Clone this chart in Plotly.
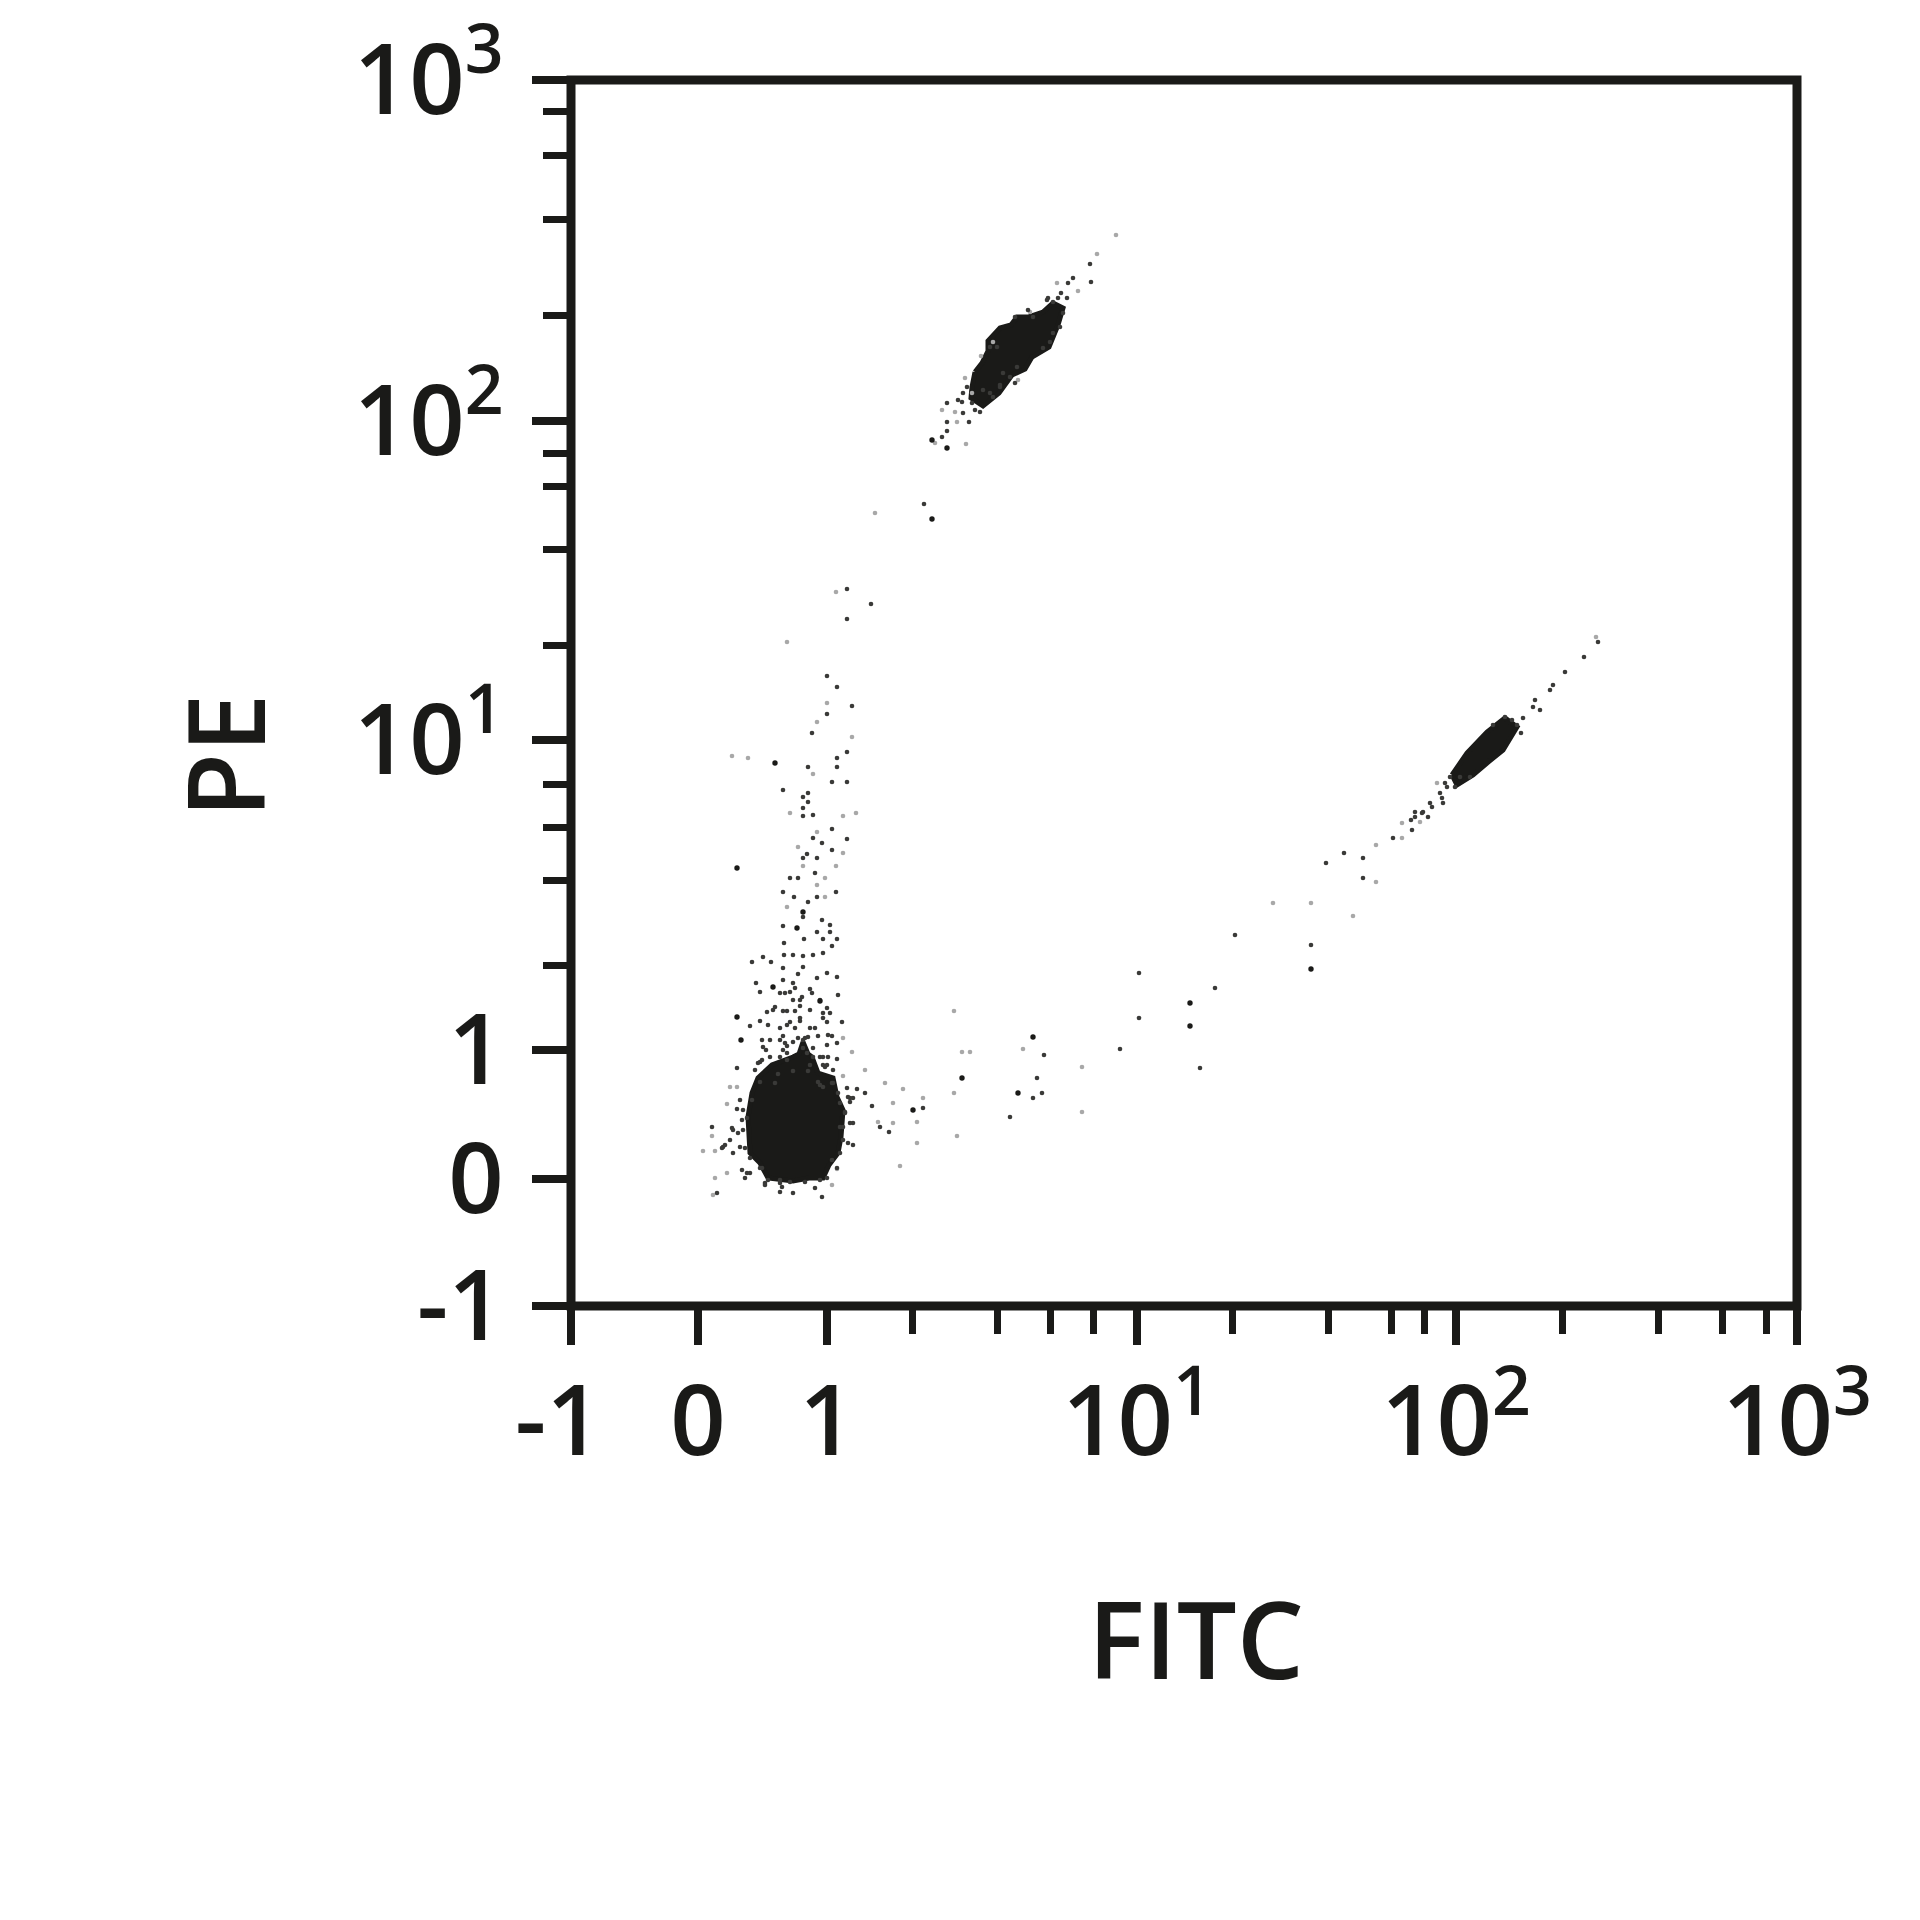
import plotly.graph_objects as go

# Axis positions are instrument channels (0-1226 on both axes, biexponential display)
major_ticks = [0, 127, 256, 566, 885, 1226]
minor_ticks = [341, 426, 479, 522, 661, 757, 820, 853, 991, 1087, 1151, 1195]
x_tick_labels = ["-1\u00a0", "0", "1", "10<sup>1</sup>", "10<sup>2</sup>", "10<sup>3</sup>"]
y_tick_labels = ["-1", "0", "1", "10<sup>1</sup>", "10<sup>2</sup>", "10<sup>3</sup>"]
x_name = "FITC"
y_name = "PE"

# Saturated population areas: outline of each solid region (FITC channel, PE channel)
neg_blob = [(222,249),(228,252),(232,264),(237,252),(241,249),(247,233),(262,228),(266,209),(272,196),(270,169),(267,153),(258,141),
            (252,128),(238,128),(222,125),(208,127),(197,128),(189,143),(179,153),(177,189),(181,213),(187,228),(201,241),(222,249)]
pe_blob = [(404,934),(411,943),(417,955),(417,965),(429,978),(440,981),(446,989),(457,989),(472,994),(482,1003),
           (492,998),(487,981),(478,959),(461,949),(454,937),(441,931),(428,913),(412,900),(400,908),(401,919),(404,934)]
fitc_blob = [(881,531),(896,553),(916,574),(934,588),(946,579),(932,556),(916,543),(902,531),(886,521),(881,531)]

# Individual events
dark_events = [(166,289),(170,266),(342,196),(391,228),(462,269),(447,213),(166,438),(204,543),(361,787),
               (619,303),(619,280),(740,337),(361,866),(376,858),(202,319),(249,305),(226,378),(232,394)]
mid_events = [(179,280),(185,323),(189,314),(181,344),(192,349),(200,344),(213,351),(222,351),(232,350),(242,351),(252,353),
              (232,339),(212,338),(227,332),(246,328),(256,333),(266,329),(212,326),(222,323),(239,317),(231,309),(267,311),
              (229,300),(214,313),(256,298),(239,296),(216,295),(196,294),(204,299),(189,285),(229,285),(252,288),(271,284),
              (216,281),(239,278),(247,270),(261,270),(212,270),(232,266),(216,260),(232,258),(191,266),(195,256),(256,261),
              (266,247),(249,249),(216,246),(189,244),(254,239),(166,238),(207,232),(222,235),(237,235),(204,223),(249,221),
              (262,223),(286,217),(294,213),(279,208),(276,218),(301,200),(309,179),(318,174),(352,198),(274,194),(282,183),
              (272,179),(282,161),(251,109),(244,118),(222,113),(209,114),(209,123),(194,123),(176,133),(174,128),(146,113),
              (152,159),(162,176),(141,179),(169,159),(171,186),(166,197),(169,206),(162,153),(179,148),(189,138),(171,136),
              (179,133),(473,251),(466,228),(462,208),(471,213),(439,189),
              (181,206),(172,196),(176,188),(172,176),(167,173),(161,178),(174,158),(159,166),(154,161),(151,158),(191,138),
              (197,126),(194,121),(209,126),(211,119),(219,124),(234,124),(249,126),(256,128),(266,138),(261,146),(269,153),
              (272,166),(277,163),(269,179),(279,183),(274,193),(269,203),(277,209),(282,208),(279,204),(267,213),(261,223),
              (247,224),(252,219),(189,224),(184,236),(191,246),(199,249),(209,249),(216,253),(242,258),(252,249),(256,241),
              (262,236),
              (222,306),(229,306),(241,313),(249,306),(209,313),(219,314),(224,318),(229,288),(219,284),(256,284),(259,293),
              (252,293),(244,278),(224,278),(227,268),(234,268),(237,269),(212,256),(214,263),(197,281),(199,266),(209,266),
              (222,264),(192,259),(187,243),(202,296),(212,295),(224,295),(209,278),(257,271),(266,263),(252,241),(257,249),
              (242,249),(236,253),(239,241),
              (237,539),(266,548),(276,554),(266,539),(261,524),(276,524),(212,516),(232,509),(237,513),(237,504),(232,498),
              (232,490),(242,491),(261,477),(242,468),(276,467),(251,463),(261,456),(236,452),(232,448),(246,448),(244,433),
              (219,428),(227,428),(212,414),(223,409),(246,409),(265,414),(237,404),(232,389),(251,386),(212,380),(259,381),
              (246,374),(259,374),(233,367),(252,367),(266,367),(261,360),(213,363),
              (353,802),(276,717),(300,702),(276,687),(256,630),(266,619),(281,600),(256,592),(241,573),
              (519,1042),(502,1028),(520,1024),(497,1023),(477,1008),(496,1008),(490,1013),(444,923),(429,921),(376,903),
              (391,904),(392,893),(376,884),(398,884),(376,875),(371,869),(419,913),
              (396,919),(392,913),(387,906),(401,903),(409,894),(404,896),(422,909),(429,919),(412,916),(426,959),(419,959),
              (476,1006),(482,1004),(487,1008),(492,993),(489,979),(482,973),(479,964),(472,958),(444,989),(457,996),(462,989),
              (432,933),(446,939),(439,929),
              (1027,664),(1013,649),(994,634),(982,621),(979,616),(964,606),(962,599),(969,596),(952,588),(950,573),(874,523),
              (869,513),(872,503),(859,503),(852,494),(844,494),(841,476),(822,468),(857,489),
              (884,519),(876,519),(889,529),(934,589),(941,586),(946,581),(922,581),(899,529),(879,529),(871,508),(844,489),
              (840,486),(861,499),(851,493),
              (549,257),(568,288),(568,333),(629,238),(644,318),(664,371),(740,361),(755,443),(773,453),(792,448),(792,428)]
pale_events = [(272,230),(272,268),(281,254),(294,236),(314,223),(332,217),(322,203),(307,184),(322,183),(352,208),
               (346,184),(346,163),(329,140),(383,295),(391,254),(399,254),(383,213),(386,170),(452,257),(266,137),(261,121),
               (156,133),(144,128),(142,111),(132,155),(144,155),(141,170),(156,202),(159,219),(166,219),
               (161,550),(177,548),(242,532),(219,493),(272,490),(285,493),(246,474),(227,459),(272,453),(232,440),(265,440),
               (254,428),(246,421),(254,409),(216,399),
               (304,793),(265,714),(216,664),(256,603),(246,584),(281,569),
               (545,1071),(526,1052),(507,1015),(486,1023),(459,994),(422,964),(410,950),(447,926),(394,928),(371,896),
               (384,894),(386,884),(364,863),(395,862),(401,913),
               (1025,669),(866,523),(849,484),(831,483),(831,468),
               (511,239),(511,194),(740,403),(702,403),(782,390),(805,424),(805,461)]

INK = "#1a1a18"
FONT = dict(family="Open Sans", size=97, color=INK, weight=600)
TITLE_FONT = dict(family="Open Sans", size=106, color=INK, weight=600)
W = H = 1920
PAGE_INSET = 8  # the browser's default body margin
L, R, T, B = 571, 1797, 80, 1306


def add_blob(fig, pts):
    fig.add_trace(go.Scatter(x=[p[0] for p in pts], y=[p[1] for p in pts], mode="lines", fill="toself",
                             fillcolor=INK, line=dict(color=INK, width=5), hoverinfo="skip", showlegend=False))


def add_events(fig, pts, color, size):
    fig.add_trace(go.Scatter(x=[p[0] for p in pts], y=[p[1] for p in pts], mode="markers",
                             marker=dict(color=color, size=size, line=dict(width=0)),
                             hoverinfo="skip", showlegend=False))


fig = go.Figure()
for blob in (neg_blob, pe_blob, fitc_blob):
    add_blob(fig, blob)
add_events(fig, pale_events, "#a8a8a8", 4.6)
add_events(fig, mid_events, "#3a3a38", 4.6)
add_events(fig, dark_events, INK, 5.4)

axis = dict(range=[0, 1226], tickmode="array", tickvals=major_ticks,
            ticks="outside", ticklen=38, tickwidth=8, tickcolor=INK, tickfont=FONT,
            ticklabeloverflow="allow", showgrid=False, zeroline=False, showline=False,
            minor=dict(tickmode="array", tickvals=minor_ticks, ticks="outside", ticklen=27, tickwidth=7,
                       tickcolor=INK, showgrid=False))
fig.update_layout(
    width=W, height=H, autosize=False, plot_bgcolor="white", paper_bgcolor="white", showlegend=False,
    margin=dict(l=L - PAGE_INSET, r=W - R + PAGE_INSET, t=T - PAGE_INSET, b=H - B + PAGE_INSET, autoexpand=False),
    xaxis=dict(axis, ticktext=x_tick_labels, ticklabelstandoff=-6),
    yaxis=dict(axis, ticktext=y_tick_labels, ticklabelstandoff=9),
    shapes=[dict(type="rect", xref="paper", yref="paper", x0=0, x1=1, y0=0, y1=1,
                 line=dict(color=INK, width=9), layer="above")],
    annotations=[
        dict(text=x_name, xref="paper", yref="paper", x=(1196 - L) / (R - L), y=(B - 1638) / (B - T),
             showarrow=False, font=TITLE_FONT, xanchor="center", yanchor="middle"),
        dict(text=y_name, xref="paper", yref="paper", x=(224 - L) / (R - L), y=(B - 756) / (B - T),
             showarrow=False, font=TITLE_FONT, textangle=-90, xanchor="center", yanchor="middle"),
    ],
)
fig.write_html("out.html")
